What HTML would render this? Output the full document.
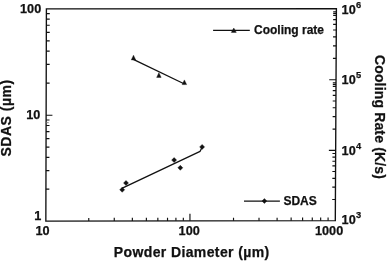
<!DOCTYPE html>
<html><head><meta charset="utf-8"><title>SDAS and cooling rate vs powder diameter</title>
<style>html,body{margin:0;padding:0;background:#fff}svg{display:block}text{stroke:#111;stroke-width:0.25px;stroke-linejoin:round}</style></head>
<body>
<svg width="387" height="262" viewBox="0 0 387 262" font-family="'Liberation Sans', Arial, Helvetica, sans-serif" font-weight="bold" fill="#111">
<rect width="387" height="262" fill="#fff"/>
<path d="M46.4 8.8L336.4 8.65L335.3 220.65L45.85 221.05Z" fill="none" stroke="#111" stroke-width="1.35" stroke-linejoin="miter"/>
<path d="M45.93 189.19h3.4 M45.98 170.55h3.4 M46.02 157.32h3.4 M46.04 147.06h3.4 M46.06 138.68h3.4 M46.08 131.60h3.4 M46.10 125.46h3.4 M46.11 120.04h3.4 M46.12 115.20h6.3 M46.21 83.17h3.4 M46.26 64.43h3.4 M46.29 51.14h3.4 M46.32 40.83h3.4 M46.34 32.40h3.4 M46.36 25.28h3.4 M46.37 19.11h3.4 M46.39 13.67h3.4 M335.41 199.47h-3.2 M335.47 187.08h-3.2 M335.52 178.30h-3.2 M335.56 171.48h-3.2 M335.58 165.91h-3.2 M335.61 161.20h-3.2 M335.63 157.12h-3.2 M335.65 153.52h-3.2 M335.67 150.30h-6.8 M335.78 129.05h-3.2 M335.84 116.62h-3.2 M335.89 107.79h-3.2 M335.92 100.95h-3.2 M335.95 95.36h-3.2 M335.97 90.64h-3.2 M336.00 86.54h-3.2 M336.01 82.93h-3.2 M336.01 84.68h-3.2 M336.03 79.70h-6.8 M336.14 58.31h-3.2 M336.21 45.80h-3.2 M336.25 36.92h-3.2 M336.29 30.04h-3.2 M336.32 24.41h-3.2 M336.34 19.66h-3.2 M336.36 15.54h-3.2 M336.38 11.90h-3.2 M336.37 13.66h-3.2 M88.77 220.99v-3.1 M114.26 220.96v-3.1 M132.35 220.93v-3.1 M146.38 220.91v-3.1 M157.84 220.90v-3.1 M167.53 220.88v-3.1 M175.92 220.87v-3.1 M183.33 220.86v-3.1 M189.95 220.85v-7 M233.52 220.79v-3.1 M259.01 220.76v-3.1 M277.10 220.73v-3.1 M291.13 220.71v-3.1 M302.59 220.70v-3.1 M312.28 220.68v-3.1 M320.67 220.67v-3.1 M328.08 220.66v-3.1" stroke="#111" stroke-width="1.15" fill="none"/>
<path d="M46.10 122.67h2.6" stroke="#777" stroke-width="0.9" fill="none"/>
<path d="M133.3 59.3L184.5 84" stroke="#111" stroke-width="1.3" fill="none"/>
<path d="M121.8 188.4L200.1 151.3L202 147.5" stroke="#111" stroke-width="1.3" fill="none" stroke-linejoin="round"/>
<path d="M133.5 55.2l2.25 4.7h-4.5z" stroke="#111" stroke-width="0.4" stroke-linejoin="round"/>
<path d="M158.9 72.7l2.25 4.7h-4.5z" stroke="#111" stroke-width="0.4" stroke-linejoin="round"/>
<path d="M184.4 79.9l2.25 4.7h-4.5z" stroke="#111" stroke-width="0.4" stroke-linejoin="round"/>
<path d="M122.2 187.3l2.5 2.5l-2.5 2.5l-2.5 -2.5z" stroke="#111" stroke-width="0.4" stroke-linejoin="round"/>
<path d="M126 180.5l2.5 2.5l-2.5 2.5l-2.5 -2.5z" stroke="#111" stroke-width="0.4" stroke-linejoin="round"/>
<path d="M174.1 157.6l2.5 2.5l-2.5 2.5l-2.5 -2.5z" stroke="#111" stroke-width="0.4" stroke-linejoin="round"/>
<path d="M180.3 165.3l2.5 2.5l-2.5 2.5l-2.5 -2.5z" stroke="#111" stroke-width="0.4" stroke-linejoin="round"/>
<path d="M202.1 144.4l2.5 2.5l-2.5 2.5l-2.5 -2.5z" stroke="#111" stroke-width="0.4" stroke-linejoin="round"/>
<path d="M213.1 30.3H249.8M244 201.05H279.9" stroke="#111" stroke-width="1.25" fill="none"/>
<path d="M233.8 28.0l2.5 4.4h-5.0z" stroke="#111" stroke-width="0.4" stroke-linejoin="round"/>
<path d="M264.4 198.55l2.45 2.45l-2.45 2.45l-2.45 -2.45z" stroke="#111" stroke-width="0.4" stroke-linejoin="round"/>
<text x="254" y="33.6" font-size="12">Cooling rate</text>
<text x="283.4" y="204.9" font-size="12">SDAS</text>
<g font-size="12.7" text-anchor="end">
<text x="41.2" y="13.3">100</text>
<text x="40.4" y="119.2">10</text>
<text x="41.2" y="219.9">1</text>
</g>
<g font-size="12.7" text-anchor="middle">
<text x="42.6" y="235.2">10</text>
<text x="189.2" y="235.2">100</text>
<text x="329.1" y="235.2">1000</text>
</g>
<text x="341.6" y="13.8" font-size="12.7">10<tspan font-size="9.3" dy="-5.8" dx="0.2">6</tspan></text>
<text x="341.6" y="83.8" font-size="12.7">10<tspan font-size="9.3" dy="-5.8" dx="0.2">5</tspan></text>
<text x="341.6" y="155.0" font-size="12.7">10<tspan font-size="9.3" dy="-6.2" dx="0.2">4</tspan></text>
<text x="341.6" y="223.6" font-size="12.7">10<tspan font-size="9.3" dy="-5.8" dx="0.2">3</tspan></text>
<text x="191.5" y="256.7" font-size="14" text-anchor="middle" textLength="155.3" lengthAdjust="spacing">Powder Diameter (µm)</text>
<text transform="translate(11.3 118.2) rotate(-90)" font-size="14" text-anchor="middle" textLength="76.6" lengthAdjust="spacing">SDAS (µm)</text>
<text transform="translate(375 116.9) rotate(90)" font-size="14" text-anchor="middle" textLength="124" lengthAdjust="spacing">Cooling Rate (K/s)</text>
</svg>
</body></html>
